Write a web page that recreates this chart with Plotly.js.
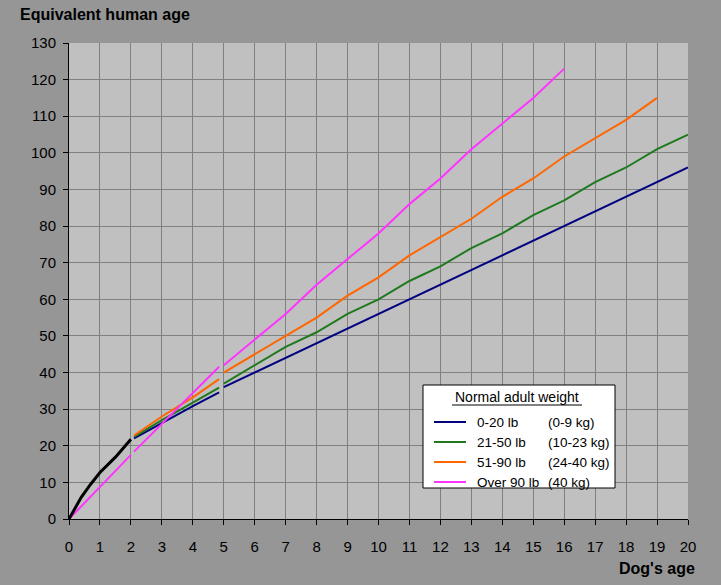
<!DOCTYPE html>
<html>
<head>
<meta charset="utf-8">
<script src="https://cdn.plot.ly/plotly-3.0.1.min.js"></script>
<style>html,body{margin:0;padding:0;background:#969696;}#chart{width:721px;height:585px;}</style>
</head>
<body>
<div id="chart"></div>
<script>
// ---- Data ----
// First two years (all sizes)
var puppyX = [0, 0.2, 0.4, 0.7, 1, 1.5, 2];
var puppyY = [0, 3, 6, 9.5, 12.7, 16.9, 21.8];

// Giant breed, first two years
var giantEarlyX = [0, 0.5, 1, 1.5, 2];
var giantEarlyY = [0, 4.4, 9, 13.3, 17.5];

// Transitional segment (about 2 to 5 years)
var midX = [2.1, 3, 4, 4.85];
var smallMid = [22.0, 26.2, 30.8, 34.6];
var mediumMid = [22.4, 27.0, 31.8, 35.9];
var largeMid = [22.8, 28.0, 33.2, 38.2];
var giantMid = [18.4, 26.0, 34.4, 41.6];

// Adult years
var adultX = [5, 6, 7, 8, 9, 10, 11, 12, 13, 14, 15, 16, 17, 18, 19, 20];
var smallAdult = [36, 40, 44, 48, 52, 56, 60, 64, 68, 72, 76, 80, 84, 88, 92, 96];
var mediumAdult = [37, 42, 47, 51, 56, 60, 65, 69, 74, 78, 83, 87, 92, 96, 101, 105];
var largeAdult = [40, 45, 50, 55, 61, 66, 72, 77, 82, 88, 93, 99, 104, 109, 115];
var giantAdult = [42, 49, 56, 64, 71, 78, 86, 93, 101, 108, 115, 123];

var seriesNames = ["0-20 lb", "21-50 lb", "51-90 lb", "Over 90 lb"];
var seriesKg = ["(0-9 kg)", "(10-23 kg)", "(24-40 kg)", "(40 kg)"];
var seriesColors = ["#000080", "#1f7a1f", "#ff6600", "#ff33ff"];
var legendTitle = "Normal adult weight";
var xTitle = "Dog's age";
var yTitle = "Equivalent human age";

// ---- Build traces ----
function join(parts) {
  var x = [], y = [];
  parts.forEach(function (p, i) {
    if (i > 0) { x.push(null); y.push(null); }
    p[0].forEach(function (v, j) { if (j < p[1].length) { x.push(v); y.push(p[1][j]); } });
  });
  return {x: x, y: y};
}
var seriesParts = [
  [[midX, smallMid], [adultX, smallAdult]],
  [[midX, mediumMid], [adultX, mediumAdult]],
  [[midX, largeMid], [adultX, largeAdult]],
  [[giantEarlyX, giantEarlyY], [midX, giantMid], [adultX, giantAdult]]
];
var traces = [];
seriesParts.forEach(function (parts, i) {
  var d = join(parts);
  traces.push({
    x: d.x, y: d.y, type: 'scatter', mode: 'lines', name: seriesNames[i],
    connectgaps: false, line: {color: seriesColors[i], width: 2}, hoverinfo: 'skip'
  });
});
traces.push({
  x: puppyX, y: puppyY, type: 'scatter', mode: 'lines', name: 'puppy',
  line: {color: '#000000', width: 3}, hoverinfo: 'skip'
});

// ---- Layout ----
var L = 69, R = 688, T = 43, B = 519;
function px(xp) { return (xp - L) / (R - L); }
function py(yp) { return (B - yp) / (B - T); }

var font = "Arial, 'Liberation Sans', sans-serif";
var shapes = [{
  type: 'rect', xref: 'paper', yref: 'paper',
  x0: px(423), x1: px(615), y0: py(488), y1: py(385),
  fillcolor: '#ffffff', line: {color: '#000000', width: 1}, layer: 'above'
}, {
  type: 'line', xref: 'paper', yref: 'paper',
  x0: px(452), x1: px(582), y0: py(405), y1: py(405),
  line: {color: '#000000', width: 1}, layer: 'above'
}];
var annotations = [{
  xref: 'paper', yref: 'paper', x: px(517), y: py(397), xanchor: 'center', yanchor: 'middle',
  text: legendTitle, showarrow: false, font: {family: font, size: 14, color: '#000'}
}, {
  xref: 'paper', yref: 'paper', x: px(18), y: py(15), xanchor: 'left', yanchor: 'middle',
  text: '<b>' + yTitle + '</b>', showarrow: false, font: {family: font, size: 16, color: '#000'}
}, {
  xref: 'paper', yref: 'paper', x: px(697), y: py(568), xanchor: 'right', yanchor: 'middle',
  text: '<b>' + xTitle + '</b>', showarrow: false, font: {family: font, size: 16, color: '#000'}
}];
var rowY = [422, 442, 462, 482];
seriesNames.forEach(function (n, i) {
  shapes.push({
    type: 'line', xref: 'paper', yref: 'paper',
    x0: px(434), x1: px(466), y0: py(rowY[i]), y1: py(rowY[i]),
    line: {color: seriesColors[i], width: 2}, layer: 'above'
  });
  annotations.push({
    xref: 'paper', yref: 'paper', x: px(475), y: py(rowY[i]), xanchor: 'left', yanchor: 'middle',
    text: n, showarrow: false, font: {family: font, size: 13.5, color: '#000'}
  });
  annotations.push({
    xref: 'paper', yref: 'paper', x: px(546), y: py(rowY[i]), xanchor: 'left', yanchor: 'middle',
    text: seriesKg[i], showarrow: false, font: {family: font, size: 13.5, color: '#000'}
  });
});

var layout = {
  width: 721, height: 585,
  paper_bgcolor: '#969696', plot_bgcolor: '#c0c0c0',
  margin: {l: L, r: 721 - R, t: T, b: 585 - B, pad: 0},
  showlegend: false,
  font: {family: font, size: 15, color: '#000'},
  xaxis: {
    range: [0, 20], dtick: 1, tick0: 0, showgrid: true, gridcolor: '#808080', gridwidth: 1,
    zeroline: false, showline: true, linecolor: '#000', linewidth: 1,
    ticks: 'outside', ticklen: 5, tickcolor: '#000', tickfont: {size: 15, color: '#000'},
    ticklabelstandoff: 9, fixedrange: true
  },
  yaxis: {
    range: [0, 130], dtick: 10, tick0: 0, showgrid: true, gridcolor: '#808080', gridwidth: 1,
    zeroline: false, showline: true, linecolor: '#000', linewidth: 1,
    ticks: 'outside', ticklen: 5, tickcolor: '#000', tickfont: {size: 15, color: '#000'},
    ticklabelstandoff: 4, fixedrange: true
  },
  shapes: shapes,
  annotations: annotations
};

Plotly.newPlot('chart', traces, layout, {staticPlot: true, displayModeBar: false});
</script>
</body>
</html>
